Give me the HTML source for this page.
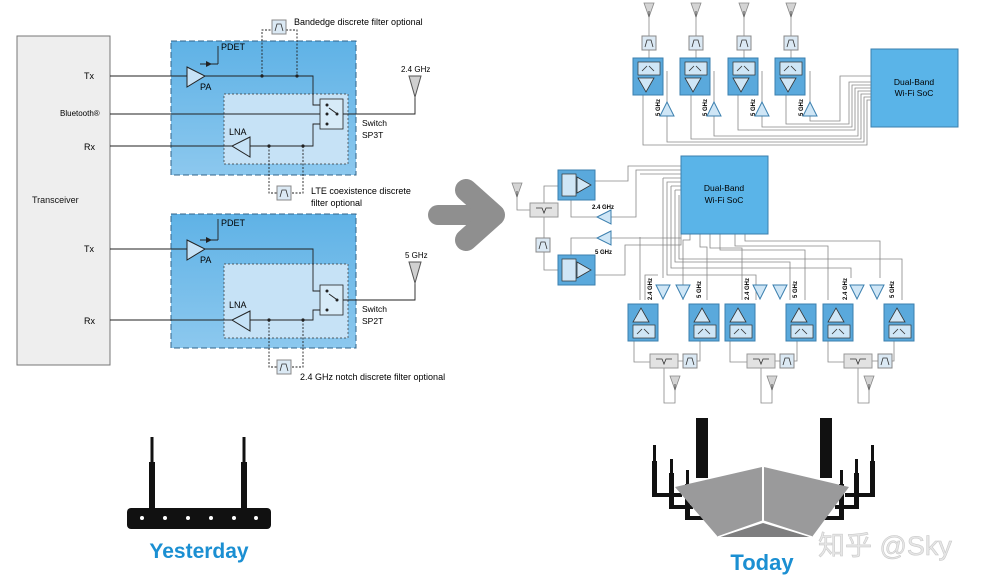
<!DOCTYPE html>
<html><head><meta charset="utf-8"><style>
html,body{margin:0;padding:0;background:#fff;width:990px;height:588px;overflow:hidden;}
svg{display:block;font-family:"Liberation Sans",Arial,sans-serif;}
</style></head><body>
<svg width="990" height="588" viewBox="0 0 990 588" xmlns="http://www.w3.org/2000/svg">
<defs>
<linearGradient id="bg" x1="0" y1="0" x2="0" y2="1"><stop offset="0" stop-color="#5fb2e6"/><stop offset="1" stop-color="#8cc8ee"/></linearGradient>
<symbol id="ant" overflow="visible"><path d="M0,0 L10,0 L5,14 Z" fill="#d4d4d4" stroke="#888" stroke-width="0.8"/><line x1="5" y1="8" x2="5" y2="14" stroke="#555"/></symbol>
<symbol id="flt" overflow="visible"><rect x="0" y="0" width="14" height="14" fill="#dbe9f4" stroke="#888"/><path d="M3,11 L5,4 L9,4 L11,11" fill="none" stroke="#333" stroke-width="0.8"/></symbol>
<symbol id="modT" overflow="visible"><rect x="0" y="0" width="30" height="37" fill="#5aa9dc" stroke="#3b7fae"/><rect x="5" y="4" width="22" height="13" fill="#cfe6f6" stroke="#333" stroke-width="0.7"/><path d="M9,13 L14,8 M16,8 L21,13" stroke="#333" stroke-width="0.8"/><path d="M5,20 L21,20 L13,34 Z" fill="#cfe6f6" stroke="#333" stroke-width="0.8"/></symbol>
<symbol id="modB" overflow="visible"><rect x="0" y="0" width="30" height="37" fill="#5aa9dc" stroke="#3b7fae"/><path d="M5,18 L21,18 L13,4 Z" fill="#cfe6f6" stroke="#333" stroke-width="0.8"/><rect x="5" y="21" width="22" height="13" fill="#cfe6f6" stroke="#333" stroke-width="0.7"/><path d="M9,30 L14,25 M16,25 L21,30" stroke="#333" stroke-width="0.8"/></symbol>
<symbol id="ampU" overflow="visible"><path d="M0,14 L14,14 L7,0 Z" fill="#cfe6f6" stroke="#3b7fae"/></symbol>
<symbol id="ampD" overflow="visible"><path d="M0,0 L14,0 L7,14 Z" fill="#cfe6f6" stroke="#3b7fae"/></symbol>
<symbol id="dip" overflow="visible"><rect x="0" y="0" width="28" height="14" fill="#e2e2e2" stroke="#999"/><path d="M6,5 L12,5 L14,10 L16,5 L22,5" fill="none" stroke="#333" stroke-width="0.8"/></symbol>
</defs>

<!-- LEFT DIAGRAM -->
<rect x="17" y="36" width="93" height="329" fill="#eeeeee" stroke="#777"/>
<text x="32" y="203" font-size="9" fill="#111">Transceiver</text>
<text x="84" y="79" font-size="9">Tx</text>
<text x="60" y="116" font-size="8">Bluetooth®</text>
<text x="84" y="150" font-size="9">Rx</text>
<text x="84" y="252" font-size="9">Tx</text>
<text x="84" y="324" font-size="9">Rx</text>

<rect x="171" y="41" width="185" height="134" fill="url(#bg)" stroke="#33648a" stroke-dasharray="6,3"/>
<rect x="224" y="94" width="124" height="70" fill="#c6e2f6" stroke="#333" stroke-width="0.7" stroke-dasharray="2,2"/>
<rect x="171" y="214" width="185" height="134" fill="url(#bg)" stroke="#33648a" stroke-dasharray="6,3"/>
<rect x="224" y="264" width="124" height="74" fill="#c6e2f6" stroke="#333" stroke-width="0.7" stroke-dasharray="2,2"/>

<g stroke="#222" stroke-width="0.9" fill="none">
<line x1="110" y1="76" x2="187" y2="76"/>
<path d="M205,76 L313,76 L313,105 L327,105"/>
<line x1="110" y1="114" x2="327" y2="114" />
<path d="M338,114 L415,114 L415,92"/>
<path d="M110,146 L232,146"/><path d="M250,146 L313,146 L313,124 L327,124"/>
<path d="M218,46 L218,64 M200,64 L218,64"/>
<path d="M262,76 L262,30 L297,30 L297,76" stroke-dasharray="2,1.5"/>
<path d="M269,146 L269,193 L303,193 L303,146" stroke-dasharray="2,1.5"/>
<line x1="110" y1="249" x2="187" y2="249"/>
<path d="M205,249 L313,249 L313,291 L327,291"/>
<path d="M338,300 L415,300 L415,277"/>
<path d="M110,320 L232,320"/><path d="M250,320 L313,320 L313,310 L327,310"/>
<path d="M218,219 L218,240 M200,240 L218,240"/>
<path d="M269,320 L269,367 L303,367 L303,320" stroke-dasharray="2,1.5"/>
</g>
<g fill="#222">
<circle cx="262" cy="76" r="1.6"/><circle cx="297" cy="76" r="1.6"/><circle cx="269" cy="146" r="1.6"/><circle cx="303" cy="146" r="1.6"/>
<circle cx="269" cy="320" r="1.6"/><circle cx="303" cy="320" r="1.6"/>
<path d="M206,61 L212,64 L206,67 Z"/><path d="M206,237 L212,240 L206,243 Z"/>
</g>
<path d="M187,67 L205,76 L187,87 Z" fill="#c6e2f6" stroke="#222"/>
<path d="M250,137 L232,146 L250,157 Z" fill="#c6e2f6" stroke="#222"/>
<path d="M187,240 L205,249 L187,260 Z" fill="#c6e2f6" stroke="#222"/>
<path d="M250,311 L232,320 L250,331 Z" fill="#c6e2f6" stroke="#222"/>
<text x="221" y="50" font-size="9">PDET</text><text x="200" y="90" font-size="9">PA</text><text x="229" y="135" font-size="9">LNA</text>
<text x="221" y="226" font-size="9">PDET</text><text x="200" y="263" font-size="9">PA</text><text x="229" y="308" font-size="9">LNA</text>
<rect x="320" y="99" width="23" height="30" fill="#d7ebf8" stroke="#222" stroke-width="0.8"/>
<g fill="#222"><circle cx="327" cy="105" r="1.5"/><circle cx="327" cy="114" r="1.5"/><circle cx="327" cy="124" r="1.5"/><circle cx="337" cy="114" r="1.5"/></g>
<line x1="329" y1="108" x2="336" y2="113" stroke="#222"/>
<rect x="320" y="285" width="23" height="30" fill="#d7ebf8" stroke="#222" stroke-width="0.8"/>
<g fill="#222"><circle cx="327" cy="291" r="1.5"/><circle cx="327" cy="310" r="1.5"/><circle cx="337" cy="300" r="1.5"/></g>
<line x1="329" y1="294" x2="336" y2="299" stroke="#222"/>
<text x="362" y="126" font-size="8.5">Switch</text><text x="362" y="138" font-size="8.5">SP3T</text>
<text x="362" y="312" font-size="8.5">Switch</text><text x="362" y="324" font-size="8.5">SP2T</text>
<path d="M409,76 L421,76 L415,97 Z" fill="#d0d0d0" stroke="#555"/>
<path d="M409,262 L421,262 L415,283 Z" fill="#d0d0d0" stroke="#555"/>
<text x="401" y="72" font-size="8">2.4 GHz</text>
<text x="405" y="258" font-size="8">5 GHz</text>
<use href="#flt" x="272" y="20"/><use href="#flt" x="277" y="186"/><use href="#flt" x="277" y="360"/>
<text x="294" y="25" font-size="9">Bandedge discrete filter optional</text>
<text x="311" y="194" font-size="9">LTE coexistence discrete</text>
<text x="311" y="206" font-size="9">filter optional</text>
<text x="300" y="380" font-size="9">2.4 GHz notch discrete filter optional</text>

<!-- big arrow -->
<path d="M438,215 L476,215" stroke="#8f8f8f" stroke-width="20" stroke-linecap="round"/>
<path d="M466,190 L494,215 L466,240" stroke="#8f8f8f" stroke-width="22" fill="none" stroke-linecap="round" stroke-linejoin="round"/>

<!-- TOP RIGHT -->
<rect x="871" y="49" width="87" height="78" fill="#5ab4e8" stroke="#3b7fae"/>
<text x="914" y="85" font-size="8.5" text-anchor="middle">Dual-Band</text>
<text x="914" y="96" font-size="8.5" text-anchor="middle">Wi-Fi SoC</text>
<g stroke="#888" stroke-width="0.8" fill="none">
<line x1="649" y1="8" x2="649" y2="58"/><line x1="696" y1="8" x2="696" y2="58"/><line x1="744" y1="8" x2="744" y2="58"/><line x1="791" y1="8" x2="791" y2="58"/>
<path d="M643,95 L643,145 L867,145 L867,100 L871,100"/>
<path d="M667,71 L667,103 M667,113 L667,142 L864,142 L864,97 L871,97"/>
<path d="M691,95 L691,139 L861,139 L861,94 L871,94"/>
<path d="M714,71 L714,103 M714,113 L714,136 L858,136 L858,91 L871,91"/>
<path d="M738,95 L738,130 L855,130 L855,88 L871,88"/>
<path d="M762,71 L762,103 M762,113 L762,127 L852,127 L852,85 L871,85"/>
<path d="M786,95 L786,124 L849,124 L849,82 L871,82"/>
<path d="M810,71 L810,103 M810,113 L810,121 L840,121 L840,76 L871,76"/>
</g>
<use href="#ant" x="644" y="3"/><use href="#ant" x="691" y="3"/><use href="#ant" x="739" y="3"/><use href="#ant" x="786" y="3"/>
<use href="#flt" x="642" y="36"/><use href="#flt" x="689" y="36"/><use href="#flt" x="737" y="36"/><use href="#flt" x="784" y="36"/>
<use href="#modT" x="633" y="58"/><use href="#modT" x="680" y="58"/><use href="#modT" x="728" y="58"/><use href="#modT" x="775" y="58"/>
<use href="#ampU" x="660" y="102"/><use href="#ampU" x="707" y="102"/><use href="#ampU" x="755" y="102"/><use href="#ampU" x="803" y="102"/>
<g font-size="6" font-weight="bold"><text transform="translate(660,116) rotate(-90)">5 GHz</text><text transform="translate(707,116) rotate(-90)">5 GHz</text><text transform="translate(755,116) rotate(-90)">5 GHz</text><text transform="translate(803,116) rotate(-90)">5 GHz</text></g>

<!-- MIDDLE RIGHT -->
<g stroke="#888" stroke-width="0.8" fill="none">
<path d="M517,195 L517,210 L530,210"/>
<path d="M544,203 L544,186 L560,186"/><path d="M544,216 L544,270 L560,270"/>
<path d="M571,200 L571,217 L597,217"/><path d="M611,217 L636,217 L636,170 L681,170"/>
<path d="M571,255 L571,238 L597,238"/><path d="M611,238 L681,238"/>
<path d="M595,181 L628,181 L628,166 L681,166"/>
<path d="M595,275 L625,275 L625,245 L681,245 L681,234"/>
<path d="M640,237 L640,300 M640,174 L681,174"/>
<path d="M663,178 L681,178 M663,178 L663,278 M667,182 L681,182 L667,182 L667,275 L756,275 L756,300"/>
<path d="M671,186 L681,186 M671,186 L671,268 L851,268 L851,278"/>
<path d="M675,190 L681,190 M675,190 L675,262 L790,262 L790,300"/>
<path d="M679,195 L679,259 L902,259 L902,300"/>
<path d="M690,234 L690,240 L683,240 L683,300 M700,234 L700,247 L707,247 L707,300"/>
<path d="M710,234 L710,248 L742,248 L742,300 M720,234 L720,250 L805,250 L805,300"/>
<path d="M745,234 L745,241 L880,241 L880,278 M735,234 L735,246 L828,246 L828,300"/>
<path d="M645,300 L645,275 L658,275"/>
<path d="M634,340 L634,362 L650,362 M678,361 L683,361 M697,361 L700,361 L700,340"/>
<path d="M730,340 L730,362 L747,362 M775,361 L780,361 M794,361 L797,361 L797,340"/>
<path d="M828,340 L828,362 L844,362 M872,361 L878,361 M892,361 L894,361 L894,340"/>
<path d="M664,368 L664,403 L675,403 L675,388 M761,368 L761,403 L772,403 L772,388 M858,368 L858,403 L869,403 L869,388"/>
</g>
<rect x="681" y="156" width="87" height="78" fill="#5ab4e8" stroke="#3b7fae"/>
<text x="724" y="191" font-size="8.5" text-anchor="middle">Dual-Band</text>
<text x="724" y="203" font-size="8.5" text-anchor="middle">Wi-Fi SoC</text>
<use href="#ant" x="512" y="183"/>
<use href="#dip" x="530" y="203"/>
<use href="#flt" x="536" y="238"/>
<rect x="558" y="170" width="37" height="30" fill="#5aa9dc" stroke="#3b7fae"/>
<rect x="562" y="174" width="14" height="22" fill="#cfe6f6" stroke="#333" stroke-width="0.7"/>
<path d="M577,177 L591,185 L577,193 Z" fill="#cfe6f6" stroke="#333" stroke-width="0.8"/>
<rect x="558" y="255" width="37" height="30" fill="#5aa9dc" stroke="#3b7fae"/>
<rect x="562" y="259" width="14" height="22" fill="#cfe6f6" stroke="#333" stroke-width="0.7"/>
<path d="M577,262 L591,270 L577,278 Z" fill="#cfe6f6" stroke="#333" stroke-width="0.8"/>
<path d="M611,210 L597,217 L611,224 Z" fill="#cfe6f6" stroke="#3b7fae"/>
<path d="M611,231 L597,238 L611,245 Z" fill="#cfe6f6" stroke="#3b7fae"/>
<text x="592" y="209" font-size="6" font-weight="bold">2.4 GHz</text>
<text x="595" y="254" font-size="6" font-weight="bold">5 GHz</text>

<use href="#ampD" x="656" y="285"/><use href="#ampD" x="676" y="285"/><use href="#ampD" x="753" y="285"/><use href="#ampD" x="773" y="285"/><use href="#ampD" x="850" y="285"/><use href="#ampD" x="870" y="285"/>
<g font-size="6" font-weight="bold"><text transform="translate(652,300) rotate(-90)">2.4 GHz</text><text transform="translate(701,298) rotate(-90)">5 GHz</text><text transform="translate(749,300) rotate(-90)">2.4 GHz</text><text transform="translate(797,298) rotate(-90)">5 GHz</text><text transform="translate(847,300) rotate(-90)">2.4 GHz</text><text transform="translate(894,298) rotate(-90)">5 GHz</text></g>
<use href="#modB" x="628" y="304"/><use href="#modB" x="689" y="304"/><use href="#modB" x="725" y="304"/><use href="#modB" x="786" y="304"/><use href="#modB" x="823" y="304"/><use href="#modB" x="884" y="304"/>
<use href="#dip" x="650" y="354"/><use href="#dip" x="747" y="354"/><use href="#dip" x="844" y="354"/>
<use href="#flt" x="683" y="354"/><use href="#flt" x="780" y="354"/><use href="#flt" x="878" y="354"/>
<use href="#ant" x="670" y="376"/><use href="#ant" x="767" y="376"/><use href="#ant" x="864" y="376"/>

<!-- YESTERDAY ROUTER -->
<rect x="150.5" y="437" width="3" height="25" fill="#111"/><rect x="149" y="462" width="6" height="46" fill="#111"/>
<rect x="242.5" y="437" width="3" height="25" fill="#111"/><rect x="241" y="462" width="6" height="46" fill="#111"/>
<rect x="127" y="508" width="144" height="21" rx="4" fill="#111"/>
<g fill="#fff"><circle cx="142" cy="518" r="2"/><circle cx="165" cy="518" r="2"/><circle cx="188" cy="518" r="2"/><circle cx="211" cy="518" r="2"/><circle cx="234" cy="518" r="2"/><circle cx="256" cy="518" r="2"/></g>
<text x="199" y="558" font-size="21" font-weight="bold" fill="#1b8fd2" text-anchor="middle">Yesterday</text>

<!-- TODAY ROUTER -->
<g fill="#111">
<rect x="696" y="418" width="12" height="60"/><rect x="820" y="418" width="12" height="60"/>
<rect x="653" y="445" width="3" height="16"/><rect x="652" y="461" width="5" height="36"/><rect x="652" y="493" width="30" height="4"/>
<rect x="670" y="459" width="3" height="14"/><rect x="669" y="473" width="5" height="36"/><rect x="669" y="505" width="24" height="4"/>
<rect x="686" y="470" width="3" height="14"/><rect x="685" y="484" width="5" height="36"/><rect x="685" y="516" width="20" height="4"/>
<rect x="871" y="445" width="3" height="16"/><rect x="870" y="461" width="5" height="36"/><rect x="845" y="493" width="30" height="4"/>
<rect x="855" y="459" width="3" height="14"/><rect x="854" y="473" width="5" height="36"/><rect x="835" y="505" width="24" height="4"/>
<rect x="840" y="470" width="3" height="14"/><rect x="839" y="484" width="5" height="36"/><rect x="822" y="516" width="20" height="4"/>
</g>
<path d="M675,487 L762,467 L762,521 L718,537 Z" fill="#9a9a9b"/>
<path d="M849,487 L764,467 L764,521 L812,537 Z" fill="#9a9a9b"/>
<path d="M720,537 L763,523 L810,537 Z" fill="#7e7e7f"/>
<path d="M718,537 L763,521 L812,537" stroke="#fff" stroke-width="1.5" fill="none"/>
<text x="762" y="570" font-size="22" font-weight="bold" fill="#1b8fd2" text-anchor="middle">Today</text>
<text x="818" y="555" font-size="27" fill="#e6e6e6" stroke="#c4c4c4" stroke-width="0.5" font-family="'Liberation Sans','Noto Sans CJK SC',sans-serif">知乎 @Sky</text>
</svg>
</body></html>
